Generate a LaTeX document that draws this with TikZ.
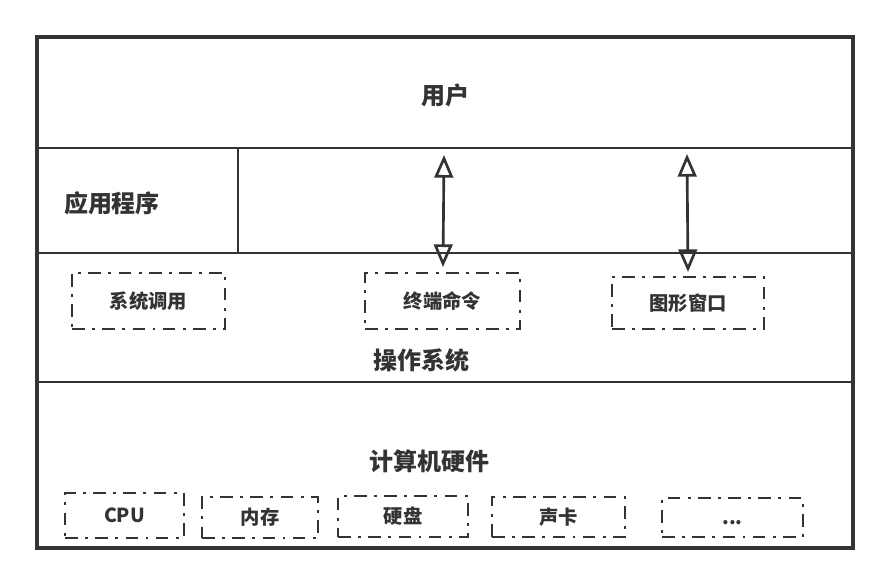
\documentclass[tikz,border=0pt]{standalone}
\usepackage{fontspec}
\setmainfont{Noto Sans CJK SC}
\usetikzlibrary{arrows.meta,fit}
\definecolor{ink}{HTML}{333333}
\tikzset{
  x=0.75pt, y=-0.75pt,
  region/.style={draw=ink, line width=2pt, inner sep=0pt, rectangle},
  dbox/.style={draw=ink, line width=2.1pt, inner sep=0pt, rectangle,
    dash pattern=on 9.5pt off 5.5pt on 2.2pt off 5.5pt},
  boxlabel/.style={font=\fontsize{14.5}{16}\selectfont\bfseries, text=ink, inner sep=0pt},
  biglabel/.style={font=\fontsize{18}{20}\selectfont\bfseries, text=ink, inner sep=0pt},
  biarrow/.style={draw=ink, line width=2pt,
    {Triangle[open, length=17pt, width=14pt, line width=2pt]}-{Triangle[open, length=17pt, width=14pt, line width=2pt]}}
}
\begin{document}
\begin{tikzpicture}
\useasboundingbox[fill=white] (0,0) rectangle (890,586);
% regions
\node[region, fit={(37,37) (853,148)}] (userbox) {};
\node[region, fit={(37,148) (238,253)}] (appbox) {};
\node[region, fit={(238,148) (853,253)}] (appright) {};
\node[region, fit={(37,253) (853,382)}] (osbox) {};
\node[region, fit={(37,382) (853,548)}] (hwbox) {};
\draw[ink, line width=2.6pt] (37,37) rectangle (853,548);
% labels
\node[biglabel] (user) at (445,95) {用户};
\node[biglabel] (app) at (112,203) {应用程序};
\node[biglabel] (os) at (421,360) {操作系统};
\node[biglabel] (hw) at (429,461) {计算机硬件};
% OS boxes
\node[dbox, fit={(72,273) (225,329)}] (sys) {};
\node[dbox, fit={(365,273) (520,329)}] (term) {};
\node[dbox, fit={(612,277) (764,329)}] (gui) {};
\node[boxlabel] (sysl) at (sys.center) {系统调用};
\node[boxlabel] (terml) at (term.center) {终端命令};
\node[boxlabel] (guil) at (gui.center) {图形窗口};
% hardware boxes
\node[dbox, fit={(65,493) (184,538)}] (cpu) {};
\node[dbox, fit={(202,497) (318,538)}] (mem) {};
\node[dbox, fit={(338,496) (468,537)}] (disk) {};
\node[dbox, fit={(492,497) (625,537)}] (sound) {};
\node[dbox, fit={(662,498) (803,537)}] (more) {};
\node[boxlabel] (cpul) at (cpu.center) {CPU};
\node[boxlabel] (meml) at (mem.center) {内存};
\node[boxlabel] (diskl) at (disk.center) {硬盘};
\node[boxlabel] (soundl) at (sound.center) {声卡};
\node[boxlabel, anchor=base] (morel) at ([yshift=-5pt]more.center) {...};
% arrows
\coordinate (a1t) at (444,155);
\coordinate (a1b) at (443,267);
\coordinate (a2t) at (687,154);
\coordinate (a2b) at (688,272);
\draw[biarrow] (a1t) -- (a1b);
\draw[biarrow] (a2t) -- (a2b);
\end{tikzpicture}
\end{document}
